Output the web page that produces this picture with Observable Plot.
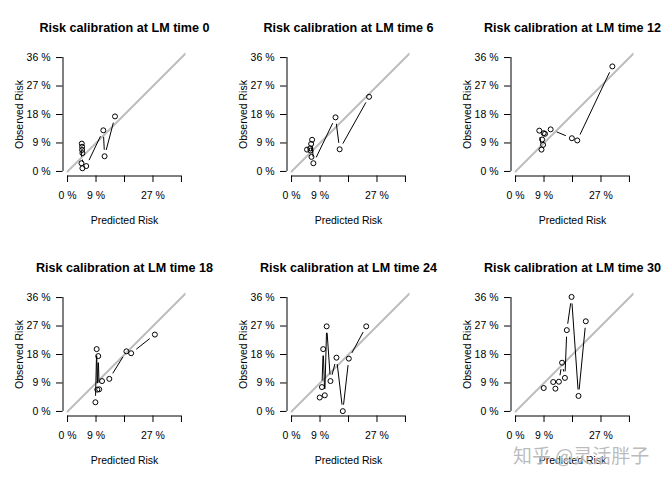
<!DOCTYPE html>
<html>
<head>
<meta charset="utf-8">
<script src="https://cdn.jsdelivr.net/npm/d3@7"></script>
<script src="https://cdn.jsdelivr.net/npm/@observablehq/plot@0.6"></script>
<style>
  html, body { margin: 0; padding: 0; background: white; }
  #wrap { position: relative; width: 672px; height: 480px; display: grid; grid-template-columns: 224px 224px 224px; grid-template-rows: 240px 240px; font-family: "Liberation Sans", Arial, Helvetica, sans-serif; }
  #wrap svg { display: block; overflow: visible; }
  #wm { position: absolute; left: 513px; top: 445px; font-family: "Noto Sans CJK SC", sans-serif; font-size: 19px; line-height: 19px; height: 19px; color: rgba(165,165,165,0.75); text-shadow: 0 0 2px white; white-space: nowrap; pointer-events: none; }
</style>
</head>
<body>
<div id="wrap"></div>
<script>
// ---- data (percent) ----
const lmTimes = [0, 6, 12, 18, 24, 30];
const pred0  = [4.4, 4.5, 4.6, 4.6, 4.7, 4.7, 5.9, 11.3, 11.7, 15.0];
const obs0   = [2.6, 8.8, 7.8, 6.8, 5.8, 1.0, 1.7, 13.0, 4.8, 17.4];
const pred6  = [4.9, 5.9, 6.0, 6.2, 6.3, 6.5, 6.9, 13.9, 15.2, 24.5];
const obs6   = [6.9, 7.3, 6.6, 8.7, 4.6, 10.0, 2.6, 17.1, 7.0, 23.6];
const pred12 = [7.5, 8.2, 8.4, 8.7, 8.9, 9.3, 11.1, 17.8, 19.5, 30.6];
const obs12  = [12.9, 6.9, 10.1, 8.4, 12.1, 11.9, 13.3, 10.5, 9.8, 33.2];
const pred18 = [8.8, 9.2, 9.4, 9.7, 10.0, 10.9, 13.2, 18.6, 20.1, 27.6];
const obs18  = [2.9, 19.7, 6.9, 17.5, 7.0, 9.6, 10.3, 19.0, 18.4, 24.3];
const pred24 = [8.9, 9.6, 10.0, 10.5, 11.1, 12.3, 14.2, 16.2, 18.1, 23.6];
const obs24  = [4.4, 7.7, 19.7, 5.1, 26.9, 9.6, 17.0, 0.1, 16.7, 26.9];
const pred30 = [8.9, 11.9, 12.6, 13.7, 14.7, 15.6, 16.2, 17.7, 19.9, 22.2];
const obs30  = [7.4, 9.3, 7.2, 9.4, 15.4, 10.6, 25.7, 36.2, 4.9, 28.5];
const tickValues = [0, 9, 18, 27, 36];
const xTickLabels = ["0 %", "9 %", "", "27 %", ""];
const yTickLabels = ["0 %", "9 %", "18 %", "27 %", "36 %"];
const diagonal = [[0, 0], [100, 100]];

const predSets = [pred0, pred6, pred12, pred18, pred24, pred30];
const obsSets = [obs0, obs6, obs12, obs18, obs24, obs30];

// ---- layout ----
const FONT = '"Liberation Sans", Arial, Helvetica, sans-serif';
const W = 224, H = 240, ML = 62.5, MR = 38.5, MT = 52.5, MB = 64.5;
const LO = -1.44, HI = 37.44; // R-style 4% extension of 0..36
const K = (W - ML - MR) / (HI - LO); // px per unit
const GAP = 6.5 / K; // type="b" gap around points

function gapSegments(pts) {
  const out = [];
  for (let i = 1; i < pts.length; i++) {
    const a = pts[i - 1], b = pts[i];
    const dx = b.x - a.x, dy = b.y - a.y, L = Math.hypot(dx, dy);
    if (L > 2 * GAP) {
      const f = GAP / L;
      out.push({x1: a.x + f * dx, y1: a.y + f * dy, x2: b.x - f * dx, y2: b.y - f * dy});
    }
  }
  return out;
}

function panel(t, xs, ys) {
  const data = xs.map((x, i) => ({x, y: ys[i]}));
  const segs = gapSegments(data);
  return Plot.plot({
    width: W, height: H,
    marginLeft: ML, marginRight: MR, marginTop: MT, marginBottom: MB,
    style: {fontFamily: FONT, fontSize: "10.5px", color: "black", background: "white", overflow: "visible"},
    x: {domain: [LO, HI]},
    y: {domain: [LO, HI]},
    marks: [
      Plot.line(diagonal, {x: d => d[0], y: d => d[1], stroke: "#bdbdbd", strokeWidth: 2, clip: true}),
      Plot.link(segs, {x1: "x1", y1: "y1", x2: "x2", y2: "y2", stroke: "black", strokeWidth: 1}),
      Plot.dot(data, {x: "x", y: "y", r: 2.5, stroke: "black", fill: "none", strokeWidth: 1}),
      Plot.ruleY([LO], {x1: tickValues[0], x2: tickValues[tickValues.length - 1], stroke: "black"}),
      Plot.ruleX([LO], {y1: tickValues[0], y2: tickValues[tickValues.length - 1], stroke: "black"}),
      Plot.axisX({anchor: "bottom", ticks: tickValues, tickFormat: d => xTickLabels[tickValues.indexOf(d)], tickSize: 6.5, tickPadding: 9.5, fontSize: 10.5, label: null, stroke: "black"}),
      Plot.axisY({anchor: "left", ticks: tickValues, tickFormat: d => yTickLabels[tickValues.indexOf(d)], tickSize: 6.5, tickPadding: 6, fontSize: 10.5, label: null, stroke: "black"}),
      Plot.text(["Risk calibration at LM time " + t], {text: d => d, frameAnchor: "top", lineAnchor: "middle", textAnchor: "middle", dy: -25.5, fontWeight: "bold", fontSize: 12.6, fill: "black"}),
      Plot.text(["Predicted Risk"], {text: d => d, frameAnchor: "bottom", lineAnchor: "middle", textAnchor: "middle", dy: 45, fontSize: 10.5, fill: "black"}),
      Plot.text(["Observed Risk"], {text: d => d, frameAnchor: "left", lineAnchor: "middle", textAnchor: "middle", rotate: -90, dx: -43.3, fontSize: 10.5, fill: "black"})
    ]
  });
}

const wrap = document.getElementById("wrap");
lmTimes.forEach((t, i) => wrap.appendChild(panel(t, predSets[i], obsSets[i])));
const wm = document.createElement("div");
wm.id = "wm";
wm.textContent = "知乎 @灵活胖子";
wrap.appendChild(wm);
</script>
</body>
</html>
